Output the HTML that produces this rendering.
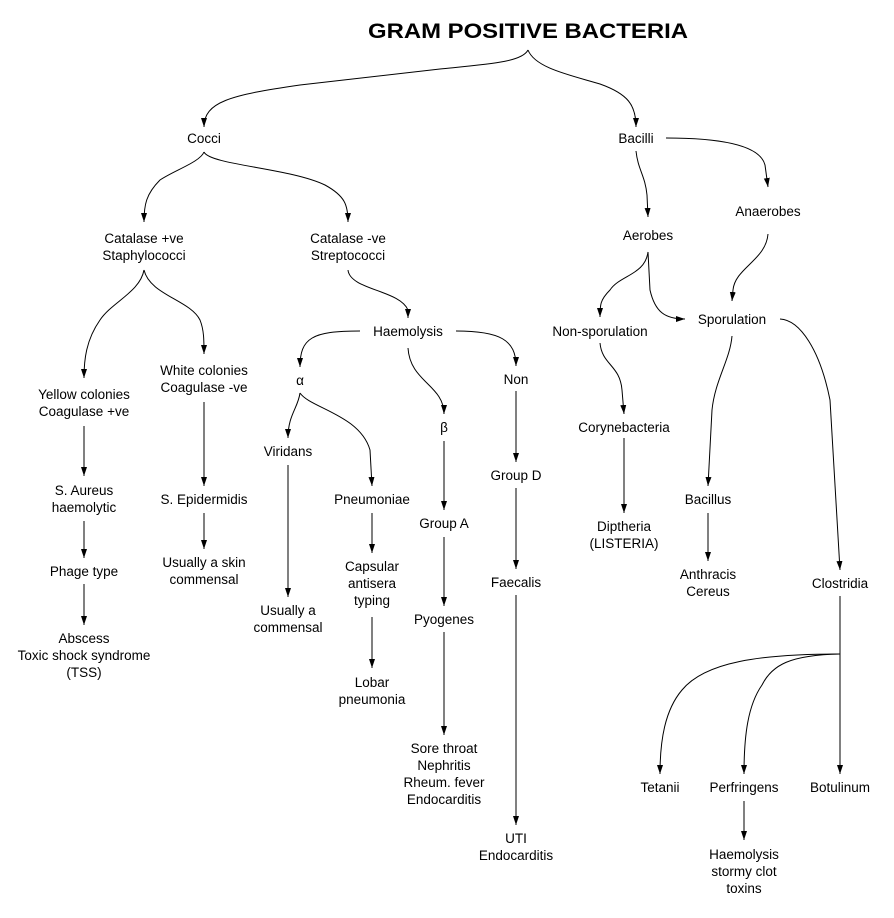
<!DOCTYPE html>
<html><head><meta charset="utf-8"><style>
html,body{margin:0;padding:0;background:#fff;}
svg{display:block;}
text{font-family:"Liberation Sans",Arial,sans-serif;font-size:13.5px;fill:#000;text-anchor:middle;}
.t{font-size:21px;font-weight:bold;}
path,line{stroke:#000;stroke-width:1;fill:none;}
</style></head><body>
<svg width="894" height="918" viewBox="0 0 894 918" xmlns="http://www.w3.org/2000/svg">
<defs><marker id="a" markerWidth="10" markerHeight="8" refX="9" refY="3" orient="auto" markerUnits="userSpaceOnUse"><path d="M0,0 L9,3 L0,6 Z" style="fill:#000;stroke:none"/></marker></defs>
<text class="t" x="528" y="38" textLength="320" lengthAdjust="spacingAndGlyphs">GRAM POSITIVE BACTERIA</text>
<g>
<text x="204" y="143">Cocci</text>
<text x="636" y="143">Bacilli</text>
<text x="144" y="243">Catalase +ve</text><text x="144" y="260">Staphylococci</text>
<text x="348" y="243">Catalase -ve</text><text x="348" y="260">Streptococci</text>
<text x="768" y="216">Anaerobes</text>
<text x="648" y="240">Aerobes</text>
<text x="408" y="336">Haemolysis</text>
<text x="600" y="336">Non-sporulation</text>
<text x="732" y="324">Sporulation</text>
<text x="84" y="399">Yellow colonies</text><text x="84" y="416">Coagulase +ve</text>
<text x="204" y="375">White colonies</text><text x="204" y="392">Coagulase -ve</text>
<text x="300" y="385">α</text>
<text x="516" y="384">Non</text>
<text x="444" y="432">β</text>
<text x="624" y="432">Corynebacteria</text>
<text x="288" y="456">Viridans</text>
<text x="372" y="504">Pneumoniae</text>
<text x="84" y="495">S. Aureus</text><text x="84" y="512">haemolytic</text>
<text x="204" y="504">S. Epidermidis</text>
<text x="516" y="480">Group D</text>
<text x="444" y="528">Group A</text>
<text x="708" y="504">Bacillus</text>
<text x="624" y="531">Diptheria</text><text x="624" y="548">(LISTERIA)</text>
<text x="84" y="576">Phage type</text>
<text x="204" y="567">Usually a skin</text><text x="204" y="584">commensal</text>
<text x="372" y="571">Capsular</text><text x="372" y="588">antisera</text><text x="372" y="605">typing</text>
<text x="516" y="587">Faecalis</text>
<text x="708" y="579">Anthracis</text><text x="708" y="596">Cereus</text>
<text x="840" y="588">Clostridia</text>
<text x="288" y="615">Usually a</text><text x="288" y="632">commensal</text>
<text x="444" y="624">Pyogenes</text>
<text x="84" y="643">Abscess</text><text x="84" y="660">Toxic shock syndrome</text><text x="84" y="677">(TSS)</text>
<text x="372" y="687">Lobar</text><text x="372" y="704">pneumonia</text>
<text x="444" y="753">Sore throat</text><text x="444" y="770">Nephritis</text><text x="444" y="787">Rheum. fever</text><text x="444" y="804">Endocarditis</text>
<text x="660" y="792">Tetanii</text><text x="744" y="792">Perfringens</text><text x="840" y="792">Botulinum</text>
<text x="516" y="843">UTI</text><text x="516" y="860">Endocarditis</text>
<text x="744" y="859">Haemolysis</text><text x="744" y="876">stormy clot</text><text x="744" y="893">toxins</text>
</g>
<g marker-end="url(#a)">
<path d="M528,50 C522,62 490,64 440,69 L300,85 C230,95 204,102 204,127"/>
<path d="M528,50 C535,68 570,75 600,84 C628,94 636,105 636,127"/>
<path d="M204,152 C200,162 175,170 160,180 C146,194 144,205 144,222"/>
<path d="M204,152 C210,165 290,168 325,185 C345,196 348,205 348,222"/>
<path d="M144,270 C140,292 112,302 100,320 C86,340 84,360 84,378"/>
<path d="M144,270 C150,295 190,300 200,320 C204,330 204,340 204,354"/>
<path d="M348,270 C350,290 400,290 408,310 L408,318"/>
<path d="M360,331 C312,331 300,338 300,367"/>
<path d="M408,348 C410,382 444,385 444,414"/>
<path d="M456,331 C500,331 516,340 516,366"/>
<path d="M300,393 C298,408 288,415 288,438"/>
<path d="M300,393 C310,408 360,415 370,450 L372,486"/>
<line x1="84" y1="426" x2="84" y2="476"/>
<line x1="84" y1="521" x2="84" y2="558"/>
<line x1="84" y1="584" x2="84" y2="625"/>
<line x1="204" y1="402" x2="204" y2="486"/>
<line x1="204" y1="513" x2="204" y2="549"/>
<line x1="288" y1="465" x2="288" y2="597"/>
<line x1="372" y1="513" x2="372" y2="553"/>
<line x1="372" y1="617" x2="372" y2="668"/>
<line x1="444" y1="441" x2="444" y2="510"/>
<line x1="444" y1="537" x2="444" y2="606"/>
<line x1="444" y1="632" x2="444" y2="735"/>
<line x1="516" y1="391" x2="516" y2="462"/>
<line x1="516" y1="488" x2="516" y2="569"/>
<line x1="516" y1="595" x2="516" y2="825"/>
<path d="M666,138 C720,138 760,145 765,165 L768,187"/>
<path d="M636,151 C638,170 645,175 647,195 L648,217"/>
<path d="M648,252 C645,275 620,275 610,290 C600,300 600,305 600,317"/>
<path d="M648,252 L650,290 C655,312 665,319 685,319"/>
<path d="M768,234 C766,260 735,268 733,290 L732,301"/>
<path d="M600,343 C602,365 620,365 622,390 L624,414"/>
<line x1="624" y1="438" x2="624" y2="513"/>
<path d="M732,336 C730,360 715,380 712,410 L708,486"/>
<path d="M780,319 C800,320 820,350 830,400 L840,570"/>
<line x1="708" y1="513" x2="708" y2="561"/>
<line x1="840" y1="596" x2="840" y2="774"/>
<path d="M840,654 C760,654 705,662 682,690 C665,710 660,740 660,774"/>
<path d="M840,654 C790,655 772,665 762,685 C748,705 744,735 744,774"/>
<line x1="744" y1="801" x2="744" y2="840"/>
</g>
</svg>
</body></html>
